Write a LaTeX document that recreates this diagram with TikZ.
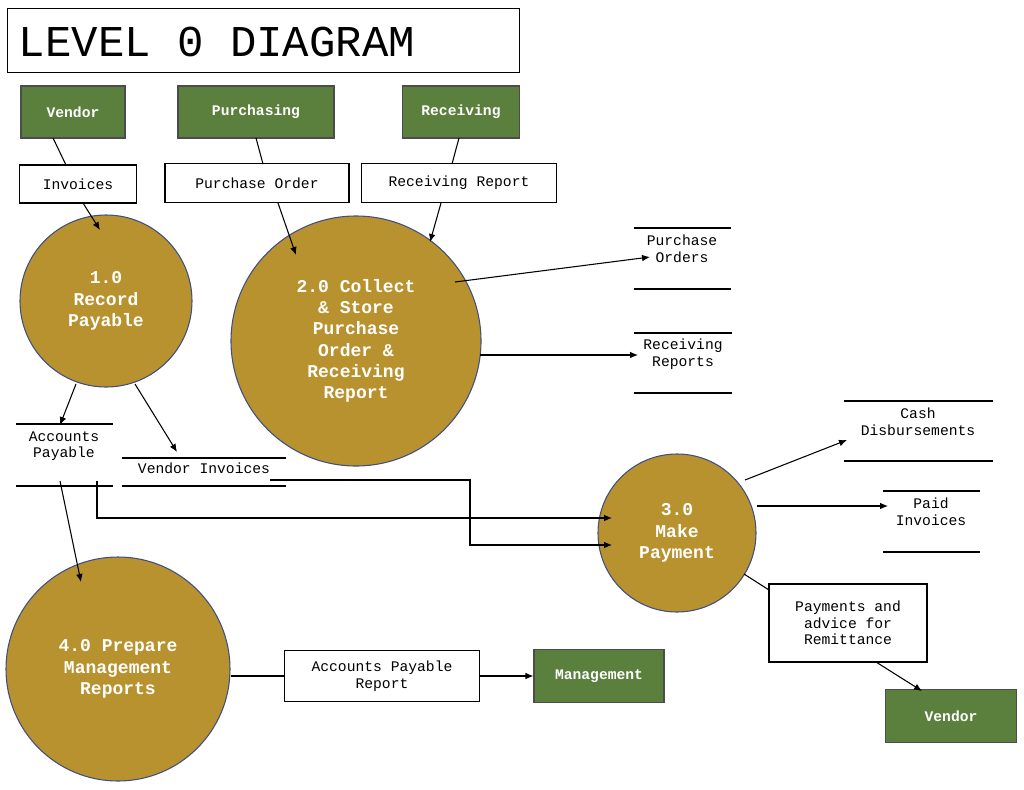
\documentclass[tikz,border=0pt]{standalone}
\usepackage{fontspec}
\setmainfont{Liberation Mono}
\usetikzlibrary{arrows.meta}
\definecolor{gr}{HTML}{5B7F3D}
\definecolor{gold}{HTML}{B8922F}
\definecolor{edge}{HTML}{3F4F7F}
\tikzset{
 ent/.style={draw=black!70,fill=gr,text=white,font=\bfseries\fontsize{11}{13}\selectfont,inner sep=0pt},
 lab/.style={draw=black,fill=white,font=\fontsize{11}{12.5}\selectfont,align=center,inner sep=0pt},
 proc/.style={circle,draw=edge,fill=gold,text=white,font=\bfseries\fontsize{13.5}{16}\selectfont,align=center,inner sep=0pt},
 st/.style={font=\fontsize{11}{12.5}\selectfont,align=center},
 arr/.style={-{Latex[length=6pt,width=5pt]}},
 every path/.style={line width=0.8pt}
}
\begin{document}
\begin{tikzpicture}[x=0.75pt,y=-0.75pt]
\useasboundingbox (0,0) rectangle (1024,789);
\node[draw=black,minimum width=512*0.75pt,minimum height=64*0.75pt,inner sep=0pt,font=\fontsize{33}{36}\selectfont,anchor=north west] (title) at (7,8) {};
\node[anchor=west,font=\fontsize{33}{36}\selectfont] (tt) at (14,42) {LEVEL 0 DIAGRAM};
% entities
\node[ent,minimum width=104*0.75pt,minimum height=52*0.75pt] (ven) at (73,112) {Vendor};
\node[ent,minimum width=156*0.75pt,minimum height=52*0.75pt] (pur) at (256,112) {Purchasing};
\node[ent,minimum width=117*0.75pt,minimum height=52*0.75pt] (rec) at (461,112) {Receiving};
\node[ent,minimum width=130*0.75pt,minimum height=53*0.75pt] (mgt) at (599,676) {Management};
\node[ent,minimum width=131*0.75pt,minimum height=53*0.75pt] (ven2) at (951,716) {Vendor};
% labels
\node[lab,minimum width=117*0.75pt,minimum height=38*0.75pt] (inv) at (78,184) {Invoices};
\node[lab,minimum width=184*0.75pt,minimum height=39*0.75pt] (po) at (257,183) {Purchase Order};
\node[lab,minimum width=195*0.75pt,minimum height=39*0.75pt] (rr) at (459,183) {Receiving Report};
\node[lab,minimum width=195*0.75pt,minimum height=51*0.75pt] (apr) at (382,676) {Accounts Payable\\Report};
\node[lab,minimum width=158*0.75pt,minimum height=78*0.75pt] (pay) at (848,623) {Payments and\\advice for\\Remittance};
% processes
\node[proc,minimum size=172*0.75pt] (p1) at (106,301) {1.0\\Record\\Payable};
\node[proc,minimum size=250*0.75pt] (p2) at (356,341) {2.0 Collect\\\& Store\\Purchase\\Order \&\\Receiving\\Report};
\node[proc,minimum size=158*0.75pt] (p3) at (677,533) {3.0\\Make\\Payment};
\node[proc,minimum size=224*0.75pt] (p4) at (118,669) {4.0 Prepare\\Management\\Reports};
% stores
\draw (634,228) -- (731,228) (634,289) -- (731,289);
\node[st] (spo) at (682,249) {Purchase\\Orders};
\draw (634,333) -- (732,333) (634,393) -- (732,393);
\node[st] (srr) at (683,354) {Receiving\\Reports};
\draw (844,401) -- (993,401) (844,461) -- (993,461);
\node[st] (scd) at (918,422) {Cash\\Disbursements};
\draw (883,491) -- (980,491) (883,552) -- (980,552);
\node[st] (spi) at (931,512) {Paid\\Invoices};
\draw (16,424) -- (113,424) (16,486) -- (113,486);
\node[st] (sap) at (64,446) {Accounts\\Payable};
\draw (122,458) -- (286,458) (122,486) -- (286,486);
\node[st] (svi) at (204,468) {Vendor Invoices};
% connectors
\coordinate (a1) at (53,138); \coordinate (a2) at (66,165);
\draw (a1) -- (a2);
\coordinate (a3) at (83,203); \coordinate (a4) at (100,230);
\draw[arr] (a3) -- (a4);
\coordinate (b1) at (256,138); \coordinate (b2) at (263,164);
\draw (b1) -- (b2);
\coordinate (b3) at (278,203); \coordinate (b4) at (296,255);
\draw[arr] (b3) -- (b4);
\coordinate (c1) at (459,138); \coordinate (c2) at (452,164);
\draw (c1) -- (c2);
\coordinate (c3) at (441,203); \coordinate (c4) at (430,242);
\draw[arr] (c3) -- (c4);
\coordinate (d1) at (455,282); \coordinate (d2) at (650,257);
\draw[arr] (d1) -- (d2);
\coordinate (d3) at (480,355); \coordinate (d4) at (638,355);
\draw[arr] (d3) -- (d4);
\coordinate (e1) at (76,384); \coordinate (e2) at (60,425);
\draw[arr] (e1) -- (e2);
\coordinate (e3) at (135,384); \coordinate (e4) at (177,452);
\draw[arr] (e3) -- (e4);
\coordinate (f1) at (60,481); \coordinate (f2) at (81,582);
\draw[arr] (f1) -- (f2);
\coordinate (g1) at (97,481); \coordinate (g2) at (612,518);
\draw[arr] (g1) |- (g2);
\coordinate (h1) at (270,480); \coordinate (h2) at (470,480); \coordinate (h3) at (612,545);
\draw[arr] (h1) -- (h2) |- (h3);
\coordinate (i1) at (745,480); \coordinate (i2) at (847,440);
\draw[arr] (i1) -- (i2);
\coordinate (i3) at (757,506); \coordinate (i4) at (888,506);
\draw[arr] (i3) -- (i4);
\coordinate (j1) at (744,574); \coordinate (j2) at (769,590);
\draw (j1) -- (j2);
\coordinate (j3) at (876,662); \coordinate (j4) at (922,691);
\draw[arr] (j3) -- (j4);
\draw (p4.east |- apr.west) -- (apr.west);
\draw[arr] (apr.east) -- (mgt.west);
\end{tikzpicture}
\end{document}
